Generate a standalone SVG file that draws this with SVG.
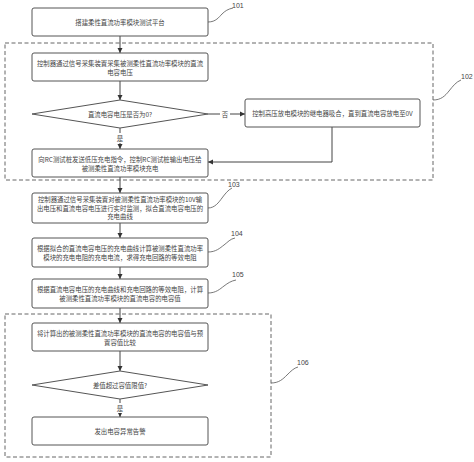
<svg xmlns="http://www.w3.org/2000/svg" width="474" height="462" viewBox="0 0 474 462">
<style>
.box{fill:#fff;stroke:#555;stroke-width:1}
.dash{fill:none;stroke:#666;stroke-width:1;stroke-dasharray:4,2.5}
.t{font-family:"Noto Sans CJK SC","Noto Sans",sans-serif;font-size:6.4px;fill:#444;text-anchor:middle}
.lbl{font-family:"Liberation Sans","Noto Sans CJK SC",sans-serif;font-size:7px;fill:#444}
.ln{fill:none;stroke:#444;stroke-width:1}
.lead{fill:none;stroke:#555;stroke-width:0.8}
</style>
<defs>
<marker id="ah" markerWidth="6" markerHeight="6" refX="5" refY="3" orient="auto" markerUnits="userSpaceOnUse">
<path d="M0,0.5 L5,3 L0,5.5 Z" fill="#333"/>
</marker>
</defs>
<rect width="474" height="462" fill="#fff"/>
<g id="group102"><rect class="dash" x="5" y="43" width="428" height="137"/></g>
<g id="group106"><rect class="dash" x="5" y="314" width="266" height="143"/></g>
<g id="connectors">
<line class="ln" x1="120" y1="36" x2="120" y2="53" marker-end="url(#ah)"/>
<line class="ln" x1="120" y1="81" x2="120" y2="100" marker-end="url(#ah)"/>
<line class="ln" x1="120" y1="128" x2="120" y2="149" marker-end="url(#ah)"/>
<line class="ln" x1="208" y1="114" x2="245" y2="114" marker-end="url(#ah)"/>
<polyline class="ln" points="332,127 332,162 208,162" marker-end="url(#ah)"/>
<line class="ln" x1="120" y1="177" x2="120" y2="193" marker-end="url(#ah)"/>
<line class="ln" x1="120" y1="223" x2="120" y2="238" marker-end="url(#ah)"/>
<line class="ln" x1="120" y1="267" x2="120" y2="279" marker-end="url(#ah)"/>
<line class="ln" x1="120" y1="308" x2="120" y2="323" marker-end="url(#ah)"/>
<line class="ln" x1="120" y1="351" x2="120" y2="371" marker-end="url(#ah)"/>
<line class="ln" x1="120" y1="399" x2="120" y2="417" marker-end="url(#ah)"/>
<rect x="220" y="109" width="10" height="10" fill="#fff"/>
<text class="t" x="225" y="116.5">否</text>
<rect x="115" y="133" width="10" height="10" fill="#fff"/>
<text class="t" x="120" y="140.5">是</text>
<rect x="115" y="403" width="10" height="10" fill="#fff"/>
<text class="t" x="120" y="410.5">是</text>
</g>
<g id="n101">
<rect class="box" x="32" y="8" width="176" height="28" rx="2"/>
<text class="t" x="120" y="24.5">搭建柔性直流功率模块测试平台</text>
</g>
<g id="n2">
<rect class="box" x="32" y="53" width="176" height="28" rx="2"/>
<text class="t" x="120" y="65.5">控制器通过信号采集装置采集被测柔性直流功率模块的直流</text>
<text class="t" x="120" y="74.5">电容电压</text>
</g>
<g id="d1">
<polygon class="box" points="120,100 208,114 120,128 32,114"/>
<text class="t" x="120" y="116.5">直流电容电压是否为0?</text>
</g>
<g id="nr">
<rect class="box" x="245" y="99" width="175" height="28" rx="2"/>
<text class="t" x="332.5" y="115.5">控制高压放电模块的继电器吸合，直到直流电容放电至0V</text>
</g>
<g id="n3">
<rect class="box" x="32" y="149" width="176" height="28" rx="2"/>
<text class="t" x="120" y="161.5">向RC测试桩发送低压充电指令，控制RC测试桩输出电压给</text>
<text class="t" x="120" y="170.5">被测柔性直流功率模块充电</text>
</g>
<g id="n103">
<rect class="box" x="32" y="193" width="176" height="30" rx="2"/>
<text class="t" x="120" y="202">控制器通过信号采集装置对被测柔性直流功率模块的10V输</text>
<text class="t" x="120" y="210.5">出电压和直流电容电压进行实时监测，拟合直流电容电压的</text>
<text class="t" x="120" y="219">充电曲线</text>
</g>
<g id="n104">
<rect class="box" x="32" y="238" width="176" height="29" rx="2"/>
<text class="t" x="120" y="250.5">根据拟合的直流电容电压的充电曲线计算被测柔性直流功率</text>
<text class="t" x="120" y="259.5">模块的充电电阻的充电电流，求得充电回路的等效电阻</text>
</g>
<g id="n105">
<rect class="box" x="32" y="279" width="176" height="29" rx="2"/>
<text class="t" x="120" y="291.5">根据直流电容电压的充电曲线和充电回路的等效电阻，计算</text>
<text class="t" x="120" y="300.5">被测柔性直流功率模块的直流电容的电容值</text>
</g>
<g id="n7">
<rect class="box" x="32" y="323" width="176" height="28" rx="2"/>
<text class="t" x="120" y="335.5">将计算出的被测柔性直流功率模块的直流电容的电容值与预</text>
<text class="t" x="120" y="344.5">置容值比较</text>
</g>
<g id="d2">
<polygon class="box" points="120,371 208,385 120,399 32,385"/>
<text class="t" x="120" y="387.5">差值超过容值限值?</text>
</g>
<g id="n8">
<rect class="box" x="32" y="417" width="176" height="28" rx="2"/>
<text class="t" x="120" y="433.5">发出电容异常告警</text>
</g>
<g id="labels">
<path class="lead" d="M208,22 C216,22 219,17 222,14 S228,9 233,8"/>
<text class="lbl" x="232" y="8">101</text>
<path class="lead" d="M433,100 C441,100 445,96 449,91 S456,82 461,80"/>
<text class="lbl" x="461" y="79">102</text>
<path class="lead" d="M208,208 C215,208 219,202 222,198 S228,190 232,188"/>
<text class="lbl" x="228" y="187">103</text>
<path class="lead" d="M208,252 C216,252 220,248 224,245 S230,239 235,238"/>
<text class="lbl" x="231" y="236">104</text>
<path class="lead" d="M208,293 C216,293 220,289 224,286 S231,281 236,280"/>
<text class="lbl" x="232" y="277">105</text>
<path class="lead" d="M271,383 C279,383 283,379 287,375 S294,368 298,367"/>
<text class="lbl" x="297" y="365">106</text>
</g>
</svg>
